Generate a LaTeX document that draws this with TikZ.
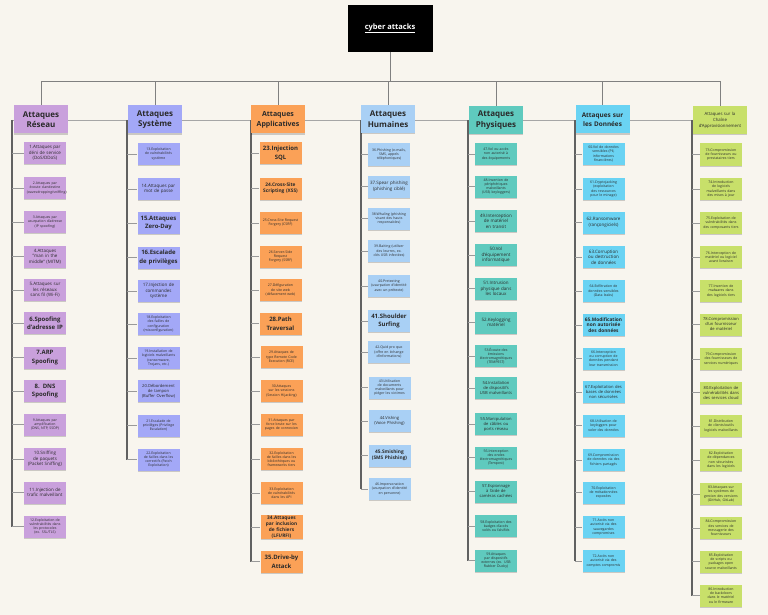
\documentclass[tikz,border=0pt]{standalone}
\usepackage{fontspec}
\setmainfont{Open Sans}
\usetikzlibrary{shadows}
\hyphenpenalty=10000
\exhyphenpenalty=10000
\pgfdeclarelayer{back}
\pgfdeclarelayer{bg}
\pgfsetlayers{back,bg,main}
\definecolor{bgc}{HTML}{F8F5EE}
\definecolor{txc}{HTML}{2A2A2A}
\definecolor{cA}{HTML}{C9A0DC}
\definecolor{cB}{HTML}{A3A8F7}
\definecolor{cC}{HTML}{FBA157}
\definecolor{cD}{HTML}{A9D0F5}
\definecolor{cE}{HTML}{5FCABE}
\definecolor{cF}{HTML}{6AD3F3}
\definecolor{cG}{HTML}{C8E06A}
\tikzset{
  note/.style={draw=none, minimum width=42pt, minimum height=22pt, inner sep=1pt,
    align=center, text width=36pt, text=txc,
    drop shadow={shadow xshift=0.3pt, shadow yshift=-1.2pt, opacity=0.18, fill=black}},
  hdr/.style={note, minimum width=52pt, minimum height=28pt, text width=52pt,
    font=\fontsize{8}{10.5}\selectfont\bfseries},
  txs/.style={font=\fontsize{3.5}{4.2}\selectfont},
  txn/.style={text width=38pt, font=\fontsize{4.1}{5}\selectfont},
  txm/.style={text width=38pt, font=\fontsize{4.5}{5.4}\selectfont},
  txb/.style={text width=38pt, font=\fontsize{4.8}{5.8}\selectfont\bfseries},
  txl/.style={text width=40pt, font=\fontsize{6}{8.5}\selectfont\bfseries},
  tree/.style={draw=black!50, line width=0.8pt},
  spine/.style={draw=black!62, line width=1.1pt},
  tick/.style={draw=black!40, line width=0.6pt},
  cross/.style={draw=black!35, line width=0.6pt},
  ttl/.style={fill=black, minimum width=85pt, minimum height=47pt, text=white,
    font=\fontsize{7.5}{9}\selectfont\bfseries}
}
\newcommand\colspine[3]{%
  \draw[spine] (#1) -- (#1 |- n#3.west);
  \foreach \i in {#2,...,#3} \draw[tick] (#1 |- n\i.west) -- (n\i.west);
}
\begin{document}
\begin{tikzpicture}[x=1pt,y=-1pt]
\begin{pgfonlayer}{back}
\fill[bgc] (0,0) rectangle (768,615);
\end{pgfonlayer}
\useasboundingbox (0,0) rectangle (768,615);

\node[ttl] (t) at (390,28.5) {\underline{cyber attacks}};

% headers
\node[hdr, fill=cA] (h1) at (41,119.5) {Attaques Réseau};
\node[hdr, fill=cB] (h2) at (155,119.5) {Attaques Système};
\node[hdr, fill=cC, font=\fontsize{7}{10}\selectfont\bfseries] (h3) at (278,119.5) {Attaques Applicatives};
\node[hdr, fill=cD] (h4) at (388,119) {Attaques Humaines};
\node[hdr, fill=cE] (h5) at (496,120) {Attaques Physiques};
\node[hdr, fill=cF, font=\fontsize{6.4}{9}\selectfont\bfseries] (h6) at (602.5,119.5) {Attaques sur\\les Données};
\node[hdr, fill=cG, font=\fontsize{4.3}{6}\selectfont] (h7) at (720,120) {Attaques sur la\\Chaîne\\d'Approvisionnement};

% column 1
\begin{scope}[every node/.style={note, fill=cA}]
\node[txm] (n1) at (45,153) {1.Attaques par déni de service (DoS/DDoS)};
\node[txs] (n2) at (45,188) {2.Attaques par écoute clandestine (eavesdropping/sniffing)};
\node[txs] (n3) at (45,222) {3.Attaques par usurpation d'adresse (IP spoofing)};
\node[txm] (n4) at (45,256.5) {4.Attaques "man in the middle" (MITM)};
\node[txm] (n5) at (45,290) {5.Attaques sur les réseaux sans fil (Wi-Fi)};
\node[txl] (n6) at (45,323) {6.Spoofing d'adresse IP};
\node[txl] (n7) at (45,357.5) {7.ARP Spoofing};
\node[txl] (n8) at (45,391) {8. DNS Spoofing};
\node[txs] (n9) at (45,424.5) {9.Attaques par amplification (DNS, NTP, SSDP)};
\node[txm] (n10) at (45,459) {10.Sniffing de paquets (Packet Sniffing)};
\node[txm] (n11) at (45,492.5) {11.Injection de trafic malveillant};
\node[txs] (n12) at (45,526.5) {12.Exploitation de vulnérabilités dans les protocoles (ex. SSL/TLS)};
\end{scope}

% column 2
\begin{scope}[every node/.style={note, fill=cB}]
\node[txs] (n13) at (158.5,154) {13.Exploitation de vulnérabilités système};
\node[txm] (n14) at (158.5,189) {14.Attaques par mot de passe};
\node[txl] (n15) at (158.5,223) {15.Attaques Zero-Day};
\node[txl] (n16) at (158.5,257.5) {16.Escalade de privilèges};
\node[txm] (n17) at (158.5,291) {17.Injection de commandes système};
\node[txs] (n18) at (158.5,324) {18.Exploitation des failles de configuration (misconfiguration)};
\node[txs] (n19) at (158.5,358) {19.Installation de logiciels malveillants (ransomware, Trojans, etc.)};
\node[txn] (n20) at (158.5,391) {20.Débordement de tampon (Buffer Overflow)};
\node[txs] (n21) at (158.5,425.5) {21.Escalade de privilèges (Privilege Escalation)};
\node[txs] (n22) at (158.5,459.5) {22.Exploitation de failles dans les correctifs (Patch Exploitation)};
\end{scope}

% column 3
\begin{scope}[every node/.style={note, fill=cC}]
\node[txl] (n23) at (280.5,153) {23.Injection SQL};
\node[txb] (n24) at (280.5,188.5) {24.Cross-Site Scripting (XSS)};
\node[txs] (n25) at (280.5,223) {25.Cross-Site Request Forgery (CSRF)};
\node[txs] (n26) at (280.5,256.5) {26.Server-Side Request Forgery (SSRF)};
\node[txs] (n27) at (280.5,290) {27.Défiguration de site web (défacement web)};
\node[txl] (n28) at (280.5,323.5) {28.Path Traversal};
\node[txs] (n29) at (281.5,357) {29.Attaques de type Remote Code Execution (RCE)};
\node[txs] (n30) at (281.5,391) {30.Attaques sur les sessions (Session Hijacking)};
\node[txs] (n31) at (281.5,424.5) {31.Attaques par force brute sur les pages de connexion};
\node[txs] (n32) at (281.5,459) {32.Exploitation de failles dans les bibliothèques ou frameworks tiers};
\node[txs] (n33) at (281.5,493) {33.Exploitation de vulnérabilités dans les API};
\node[txb] (n34) at (281.5,527) {34.Attaques par inclusion de fichiers (LFI/RFI)};
\node[txl] (n35) at (281.5,561.5) {35.Drive-by Attack};
\end{scope}

% column 4
\begin{scope}[every node/.style={note, fill=cD}]
\node[txs] (n36) at (389,154.5) {36.Phishing (e-mails, SMS, appels téléphoniques)};
\node[txm] (n37) at (389,186.5) {37.Spear phishing (phishing ciblé)};
\node[txs] (n38) at (389,218.5) {38.Whaling (phishing visant des hauts responsables)};
\node[txs] (n39) at (389,251) {39.Baiting (utiliser des leurres, ex. clés USB infectées)};
\node[txs] (n40) at (389,286) {40.Pretexting (usurpation d'identité avec un prétexte)};
\node[txl] (n41) at (389,321) {41.Shoulder Surfing};
\node[txs] (n42) at (389,352) {42.Quid pro quo (offre en échange d'informations)};
\node[txs] (n43) at (389.5,387.5) {43.Utilisation de documents malveillants pour piéger les victimes};
\node[txn] (n44) at (389.5,421) {44.Vishing (Voice Phishing)};
\node[txb] (n45) at (389.5,455.5) {45.Smishing (SMS Phishing)};
\node[txs] (n46) at (389.5,489) {46.Impersonation (usurpation d'identité en personne)};
\end{scope}

% column 5
\begin{scope}[every node/.style={note, fill=cE}]
\node[txs] (n47) at (496,154) {47.Vol ou accès non autorisé à des équipements};
\node[txs] (n48) at (496,186.5) {48.Insertion de périphériques malveillants (USB, keyloggers)};
\node[txm] (n49) at (496,221) {49.Interception de matériel en transit};
\node[txm] (n50) at (496,255) {50.Vol d'équipement informatique};
\node[txm] (n51) at (496,288.5) {51.Intrusion physique dans les locaux};
\node[txm] (n52) at (496,322.5) {52.Keylogging matériel};
\node[txs] (n53) at (496,356) {53.Écoute des émissions électromagnétiques (TEMPEST)};
\node[txn] (n54) at (496,388) {54.Installation de dispositifs USB malveillants};
\node[txn] (n55) at (496,424) {55.Manipulation de câbles ou ports réseau};
\node[txs] (n56) at (496,457.5) {56.Interception des ondes électromagnétiques (Tempest)};
\node[txn] (n57) at (496,491.5) {57.Espionnage à l'aide de caméras cachées};
\node[txs] (n58) at (496,526) {58.Exploitation des badges d'accès volés ou falsifiés};
\node[txs] (n59) at (496,560.5) {59.Attaques par dispositifs externes (ex. USB Rubber Ducky)};
\end{scope}

% column 6
\begin{scope}[every node/.style={note, fill=cF}]
\node[txs] (n60) at (603.5,154) {60.Vol de données sensibles (PII, informations financières)};
\node[txs] (n61) at (603.5,189) {61.Cryptojacking (exploitation des ressources pour le minage)};
\node[txm] (n62) at (603.5,222.5) {62.Ransomware (rançongiciels)};
\node[txm] (n63) at (603.5,257) {63.Corruption ou destruction de données};
\node[txs] (n64) at (603.5,291) {64.Exfiltration de données sensibles (Data leaks)};
\node[txb] (n65) at (603.5,325) {65.Modification non autorisée des données};
\node[txs] (n66) at (603.5,358.5) {66.Interception ou corruption de données pendant leur transmission};
\node[txn] (n67) at (603.5,392) {67.Exploitation des bases de données non sécurisées};
\node[txs] (n68) at (603.5,425.5) {68.Utilisation de keyloggers pour voler des données};
\node[txs] (n69) at (603.5,460) {69.Compromission de données via des fichiers partagés};
\node[txs] (n70) at (603.5,492.5) {70.Exploitation de métadonnées exposées};
\node[txs] (n71) at (603.5,527) {71.Accès non autorisé via des sauvegardes compromises};
\node[txs] (n72) at (603.5,561) {72.Accès non autorisé via des comptes compromis};
\end{scope}

% column 7
\begin{scope}[every node/.style={note, fill=cG}]
\node[txs] (n73) at (721,154.5) {73.Compromission de fournisseurs ou prestataires tiers};
\node[txs] (n74) at (721,189) {74.Introduction de logiciels malveillants dans des mises à jour};
\node[txs] (n75) at (721,223) {75.Exploitation de vulnérabilités dans des composants tiers};
\node[txs] (n76) at (721,257) {76.Interception de matériel ou logiciel avant livraison};
\node[txs] (n77) at (721,291) {77.Insertion de malwares dans des logiciels tiers};
\node[txn] (n78) at (721,324.5) {78.Compromission d'un fournisseur de matériel};
\node[txs] (n79) at (721,359) {79.Compromission des fournisseurs de services numériques};
\node[txn] (n80) at (721,392.5) {80.Exploitation de vulnérabilités dans des services cloud};
\node[txs] (n81) at (721,426) {81.Distribution de clients/outils logiciels malveillants};
\node[txs] (n82) at (721,460) {82.Exploitation de dépendances non sécurisées dans les logiciels};
\node[txs] (n83) at (721,494) {83.Attaques sur les systèmes de gestion des versions (GitHub, GitLab)};
\node[txs] (n84) at (721,528) {84.Compromission des services de messagerie des fournisseurs};
\node[txs] (n85) at (721,561.5) {85.Exploitation de scripts ou packages open source malveillants};
\node[txs] (n86) at (721,595.5) {86.Introduction de backdoors dans le matériel ou le firmware};
\end{scope}

\coordinate (s1) at (12,120);
\coordinate (s2) at (127,120);
\coordinate (s3) at (251,120);
\coordinate (s4) at (361,120);
\coordinate (s5) at (468,120);
\coordinate (s6) at (575,120);
\coordinate (s7) at (692,120);
\coordinate (bar) at (390,81);

\begin{pgfonlayer}{bg}
\draw[cross] (s1) -- (h7.west);
\foreach \h in {1,...,7} \draw[tree] (t.south) -- (t.south |- bar) -| (h\h.north);
\colspine{s1}{1}{12}
\colspine{s2}{13}{22}
\colspine{s3}{23}{35}
\colspine{s4}{36}{46}
\colspine{s5}{47}{59}
\colspine{s6}{60}{72}
\colspine{s7}{73}{86}
\end{pgfonlayer}
\end{tikzpicture}
\end{document}
